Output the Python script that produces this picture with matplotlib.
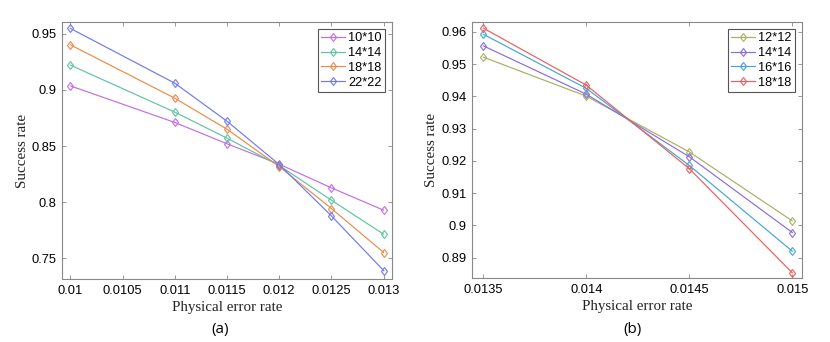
import matplotlib
matplotlib.use("Agg")
import matplotlib.pyplot as plt

# panel (a)
p_a = [0.01, 0.011, 0.0115, 0.012, 0.0125, 0.013]
labels_a = ['10*10', '14*14', '18*18', '22*22']
s10 = [0.9036, 0.8710, 0.8520, 0.8338, 0.8127, 0.7928]
s14 = [0.9221, 0.8802, 0.8570, 0.8326, 0.8017, 0.7714]
s18 = [0.9402, 0.8926, 0.8650, 0.8317, 0.7943, 0.7551]
s22 = [0.9548, 0.9060, 0.8721, 0.8335, 0.7877, 0.7390]
colors_a = ['#c26ee3', '#5ec4a0', '#ec8a4a', '#7079ee']

# panel (b)
p_b = [0.0135, 0.014, 0.0145, 0.015]
labels_b = ['12*12', '14*14', '16*16', '18*18']
t12 = [0.9522, 0.9401, 0.9228, 0.9014]
t14 = [0.9557, 0.9407, 0.9213, 0.8978]
t16 = [0.9593, 0.9425, 0.9186, 0.8920]
t18 = [0.9612, 0.9435, 0.9176, 0.8853]
colors_b = ['#a8b062', '#8a6cdc', '#42a6d6', '#f05c5c']

tick_font = 'Liberation Sans'
label_font = 'Liberation Serif'

fig = plt.figure(figsize=(8.3, 3.42), dpi=100)
ax1 = fig.add_axes([62/830, 1 - 279/342, 330/830, 257/342])
ax2 = fig.add_axes([472/830, 1 - 278/342, 330/830, 256/342])


def style(ax, xticks, yticks, xlab, ylab, ytl):
    ax.set_xticks(xticks)
    ax.set_xticklabels([('%g' % v) for v in xticks], fontfamily=tick_font, fontsize=9.3)
    ax.set_yticks(yticks)
    ax.set_yticklabels(ytl, fontfamily=tick_font, fontsize=9.3)
    ax.tick_params(direction='in', top=True, right=True, length=3.2, width=0.6,
                   color='#888888', pad=4)
    for sp in ax.spines.values():
        sp.set_color('#888888')
        sp.set_linewidth(0.8)
    ax.set_xlabel(xlab, fontfamily=label_font, fontsize=10.8, labelpad=3.5, color='#222222')
    ax.set_ylabel(ylab, fontfamily=label_font, fontsize=10.8, labelpad=2, color='#222222')


def add_legend(ax):
    leg = ax.legend(loc='upper right', prop={'family': tick_font, 'size': 9.2},
                    fancybox=False, edgecolor='#555555', framealpha=1,
                    borderpad=0.25, labelspacing=0.22, handlelength=1.9,
                    handletextpad=0.25, borderaxespad=0.55)
    leg.get_frame().set_linewidth(0.8)


for ys, lab, c in zip([s10, s14, s18, s22], labels_a, colors_a):
    ax1.plot(p_a, ys, color=c, marker='d', markersize=4.4, markerfacecolor='none',
             markeredgewidth=0.8, linewidth=0.85, label=lab)
ax1.set_xlim(0.00992, 0.01308)
ax1.set_ylim(0.7315, 0.9605)
style(ax1, [0.01, 0.0105, 0.011, 0.0115, 0.012, 0.0125, 0.013],
      [0.75, 0.8, 0.85, 0.9, 0.95], 'Physical error rate', 'Success rate',
      ['0.75', '0.8', '0.85', '0.9', '0.95'])
add_legend(ax1)

for ys, lab, c in zip([t12, t14, t16, t18], labels_b, colors_b):
    ax2.plot(p_b, ys, color=c, marker='d', markersize=4.4, markerfacecolor='none',
             markeredgewidth=0.8, linewidth=0.85, label=lab)
ax2.set_xlim(0.013445, 0.015047)
ax2.set_ylim(0.8837, 0.9631)
style(ax2, [0.0135, 0.014, 0.0145, 0.015],
      [0.89, 0.9, 0.91, 0.92, 0.93, 0.94, 0.95, 0.96], 'Physical error rate', 'Success rate',
      ['0.89', '0.9', '0.91', '0.92', '0.93', '0.94', '0.95', '0.96'])
add_legend(ax2)

fig.text(220/830, 1 - 330/342, '(a)', ha='center', va='center', fontsize=11,
         fontfamily='Open Sans')
fig.text(632/830, 1 - 330/342, '(b)', ha='center', va='center', fontsize=11,
         fontfamily='Open Sans')

fig.savefig('out.png', dpi=100)
